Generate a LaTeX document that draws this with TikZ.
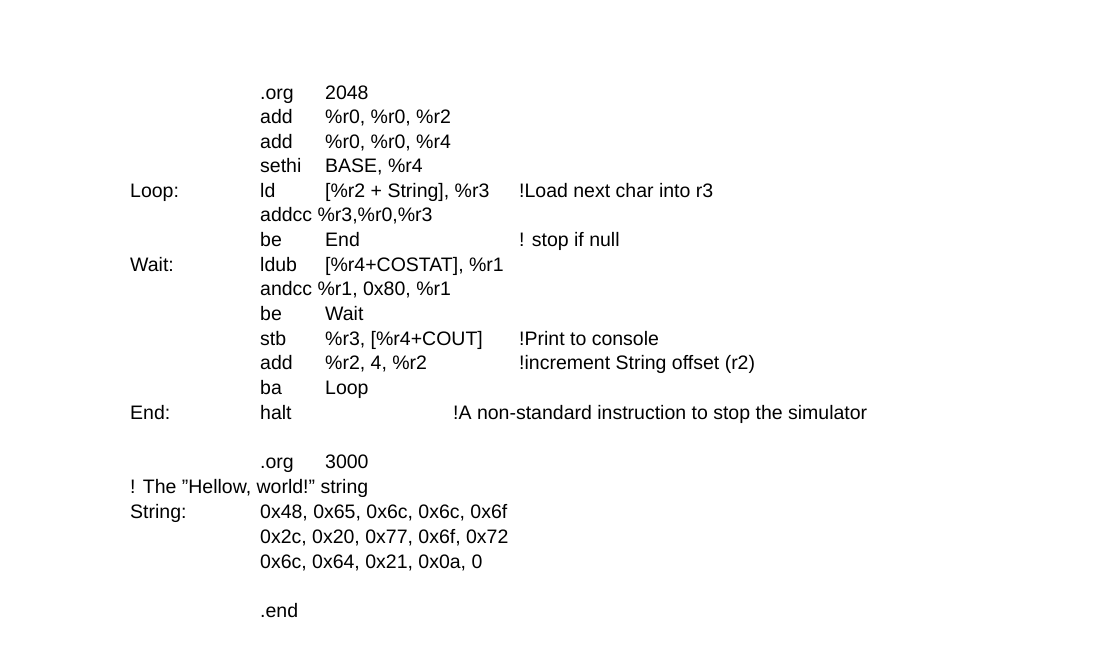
\documentclass[tikz,border=0pt]{standalone}
\usepackage{fontspec}
\setmainfont{Liberation Sans}
\begin{document}
\begin{tikzpicture}[x=1pt,y=-1pt,t/.style={anchor=base west,inner sep=0pt,font=\fontsize{19.5}{22}\selectfont}]
\useasboundingbox (0,0) rectangle (1094,648);
\def\L#1#2#3#4#5{\node[t] (l#1a) at (130,#1) {#2};\node[t] (l#1b) at (260,#1) {#3};\node[t] (l#1c) at (325,#1) {#4};\node[t] (l#1d) at (519,#1) {#5};}
\L{99}{}{.org}{2048}{}
\L{123}{}{add}{\%r0, \%r0, \%r2}{}
\L{148}{}{add}{\%r0, \%r0, \%r4}{}
\L{172}{}{sethi}{BASE, \%r4}{}
\L{197}{Loop:}{ld}{[\%r2 + String], \%r3}{!Load next char into r3}
\node[t] (addcc) at (260,221) {addcc \%r3,\%r0,\%r3};
\L{246}{}{be}{End}{! stop if null}
\L{271}{Wait:}{ldub}{[\%r4+COSTAT], \%r1}{}
\node[t] (andcc) at (260,295) {andcc \%r1, 0x80, \%r1};
\L{320}{}{be}{Wait}{}
\L{345}{}{stb}{\%r3, [\%r4+COUT]}{!Print to console}
\L{369}{}{add}{\%r2, 4, \%r2}{!increment String offset (r2)}
\L{394}{}{ba}{Loop}{}
\L{419}{End:}{halt}{}{}
\node[t] (cm) at (453,419) {!A non-standard instruction to stop the simulator};
\L{468}{}{.org}{3000}{}
\node[t] (hw) at (130,493) {! The "Hellow, world!" string};
\node[t] (s) at (130,518) {String:};
\node[t] (d1) at (260,518) {0x48, 0x65, 0x6c, 0x6c, 0x6f};
\node[t] (d2) at (260,543) {0x2c, 0x20, 0x77, 0x6f, 0x72};
\node[t] (d3) at (260,568) {0x6c, 0x64, 0x21, 0x0a, 0};
\node[t] (e) at (260,617) {.end};
\end{tikzpicture}
\end{document}
